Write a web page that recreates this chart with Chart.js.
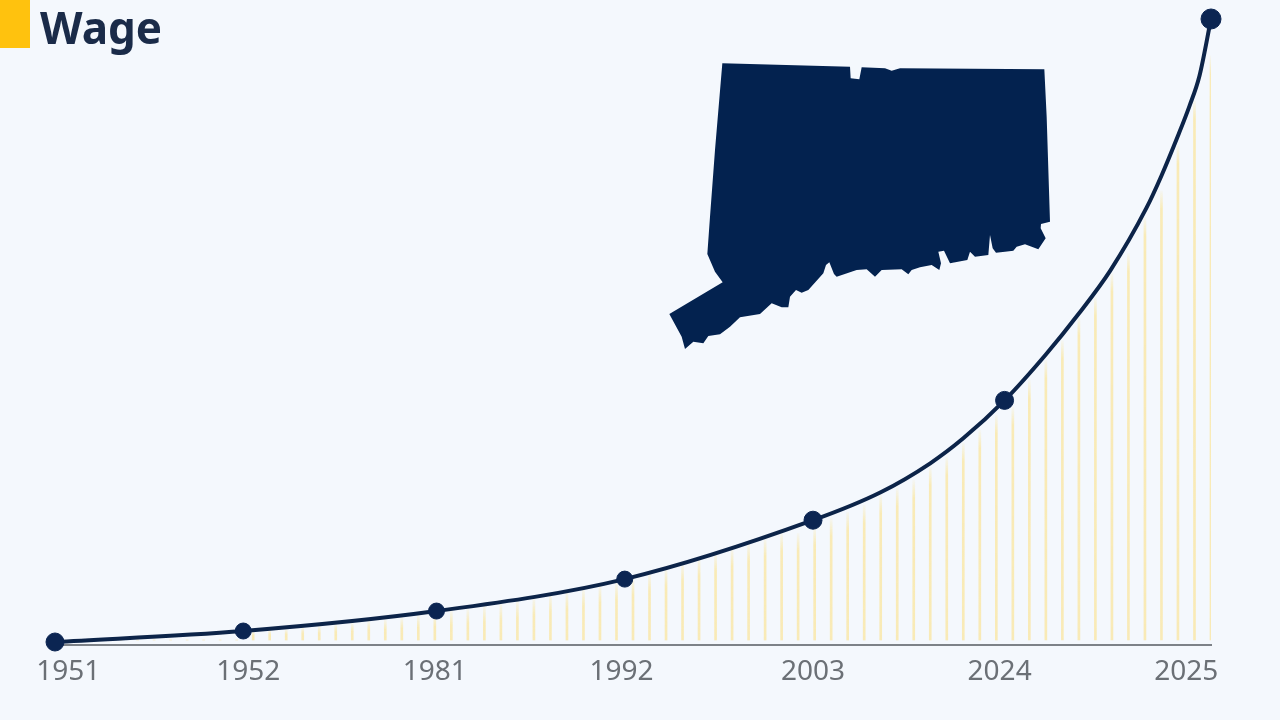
<!DOCTYPE html>
<html>
<head>
<meta charset="utf-8">
<title>Wage</title>
<script src="https://cdn.jsdelivr.net/npm/chart.js@4"></script>
<style>
  html, body { margin:0; padding:0; background:#f4f8fd; }
  #stage { position:relative; width:1280px; height:720px; overflow:hidden; background:#f4f8fd; }
  #wageChart { position:absolute; left:0; top:0; }
  #flag { position:absolute; left:0; top:0; width:30px; height:48px; background:#ffc20e; }
  #title { position:absolute; left:40px; top:-3px; font:bold 44px "Noto Sans", sans-serif; color:#1a2b49; }
  #state { position:absolute; left:660px; top:50px; width:400px; height:310px; }
</style>
</head>
<body>
<div id="stage">
  <canvas id="wageChart" width="1280" height="720"></canvas>
  <div id="flag"></div>
  <div id="title">Wage</div>
  <svg id="state" viewBox="0 0 1200 930">
    <path fill="#03224f" d="M187,40 L570,50 L572,85 L598,88 L605,52 L675,55 L695,62 L720,55 L1153,58 L1160,200 L1170,515 L1143,522 L1142,535 L1157,565 L1135,598 L1095,583 L1070,590 L1060,602 L1035,605 L1008,608 L998,595 L990,555 L985,615 L945,620 L930,605 L922,630 L870,640 L852,602 L835,605 L843,640 L838,660 L815,645 L780,652 L755,660 L745,673 L725,658 L665,660 L645,680 L620,658 L590,660 L530,680 L522,672 L508,637 L498,645 L490,670 L445,720 L425,728 L408,720 L390,740 L385,772 L365,772 L335,760 L300,792 L240,802 L210,830 L180,853 L145,858 L130,880 L100,875 L75,897 L65,860 L28,792 L188,697 L165,665 L142,612 L150,500 L165,300 Z"/>
  </svg>
</div>
<script>
// values, x is counted in bar slots
const tickLabels = ['1951','1952','1981','1992','2003','2024','2025'];
const tickSlots = [0.8,11.7,23,34.3,45.9,57.2,68.5];
const markerSlots = [0,11.4,23.1,34.5,45.9,57.5,70];
const markerValues = [3,14,34,66,125,245,627];
const curveSlots = [0,11.4,23.1,34.5,45.9,50,53,55,57.5,60,62,63.9,66.1,67,68,68.7,69.3,70];
const curveValues = [3,14,34,66,125,153,182,207,245,291,332,375,438,470,510,540,570,627];
const barValues = [5,5,5,5,5,5,5,5,5,5,5,5,14,15,16,18,19,21,22,24,26,28,30,32,35,37,40,42,45,48,51,54,57,60,63,68,72,77,82,87,92,97,102,107,112,112,118,127,133,140,150,157,165,178,188,202,215,230,238,265,285,305,328,348,372,392,428,455,500,545,590];
const barFloor = 5;

function barGradient(ctx){
  const chart = ctx.chart;
  const y = chart.scales.y;
  if (!y || ctx.raw == null) return '#f8e6b0';
  const top = y.getPixelForValue(ctx.raw.y[1]);
  const bottom = y.getPixelForValue(barFloor);
  if (!isFinite(top) || !isFinite(bottom) || bottom <= top) return '#f8e6b0';
  const g = chart.ctx.createLinearGradient(0, top, 0, bottom);
  g.addColorStop(0, 'rgba(249,232,170,.1)');
  g.addColorStop(Math.min(0.5, 18 / (bottom - top)), 'rgba(249,232,170,.85)');
  g.addColorStop(1, 'rgba(249,232,175,.9)');
  return g;
}

new Chart(document.getElementById('wageChart').getContext('2d'), {
  type: 'bar',
  data: { datasets: [
    { type:'scatter', data: markerSlots.map((x,i) => ({ x, y: markerValues[i] })), showLine:false, backgroundColor:'#0b2552', borderColor:'#0b2552',
      pointRadius:[9,8,8,8,9,9,10], order:0, clip:false },
    { type:'line', data: curveSlots.map((x,i) => ({ x, y: curveValues[i] })), borderColor:'#0c2449', borderWidth:4, pointRadius:0,
      cubicInterpolationMode:'monotone', fill:false, order:1, clip:false },
    { type:'bar', data: barValues.map((v,i) => ({ x: i, y: [barFloor, v] })), backgroundColor: barGradient, barThickness:2, order:2 }
  ]},
  options: {
    responsive:false, animation:false, events:[],
    layout:{ padding:{ left:55, right:69, top:0, bottom:0 } },
    plugins:{ legend:{ display:false }, tooltip:{ enabled:false } },
    scales:{
      x:{ type:'linear', min:0, max:70, offset:false,
        grid:{ display:false, offset:false, drawTicks:false },
        border:{ color:'#7d8288', width:2 },
        afterBuildTicks: s => { s.ticks = tickSlots.map(value => ({ value })); },
        afterFit: s => { s.height = 75; },
        ticks:{ autoSkip:false, maxRotation:0, padding:10, color:'#6b7076', font:{ family:'"Noto Sans"', size:28 }, callback:(v,i) => tickLabels[i] }
      },
      y:{ display:false, min:0, max:635 }
    }
  }
});
</script>
</body>
</html>
